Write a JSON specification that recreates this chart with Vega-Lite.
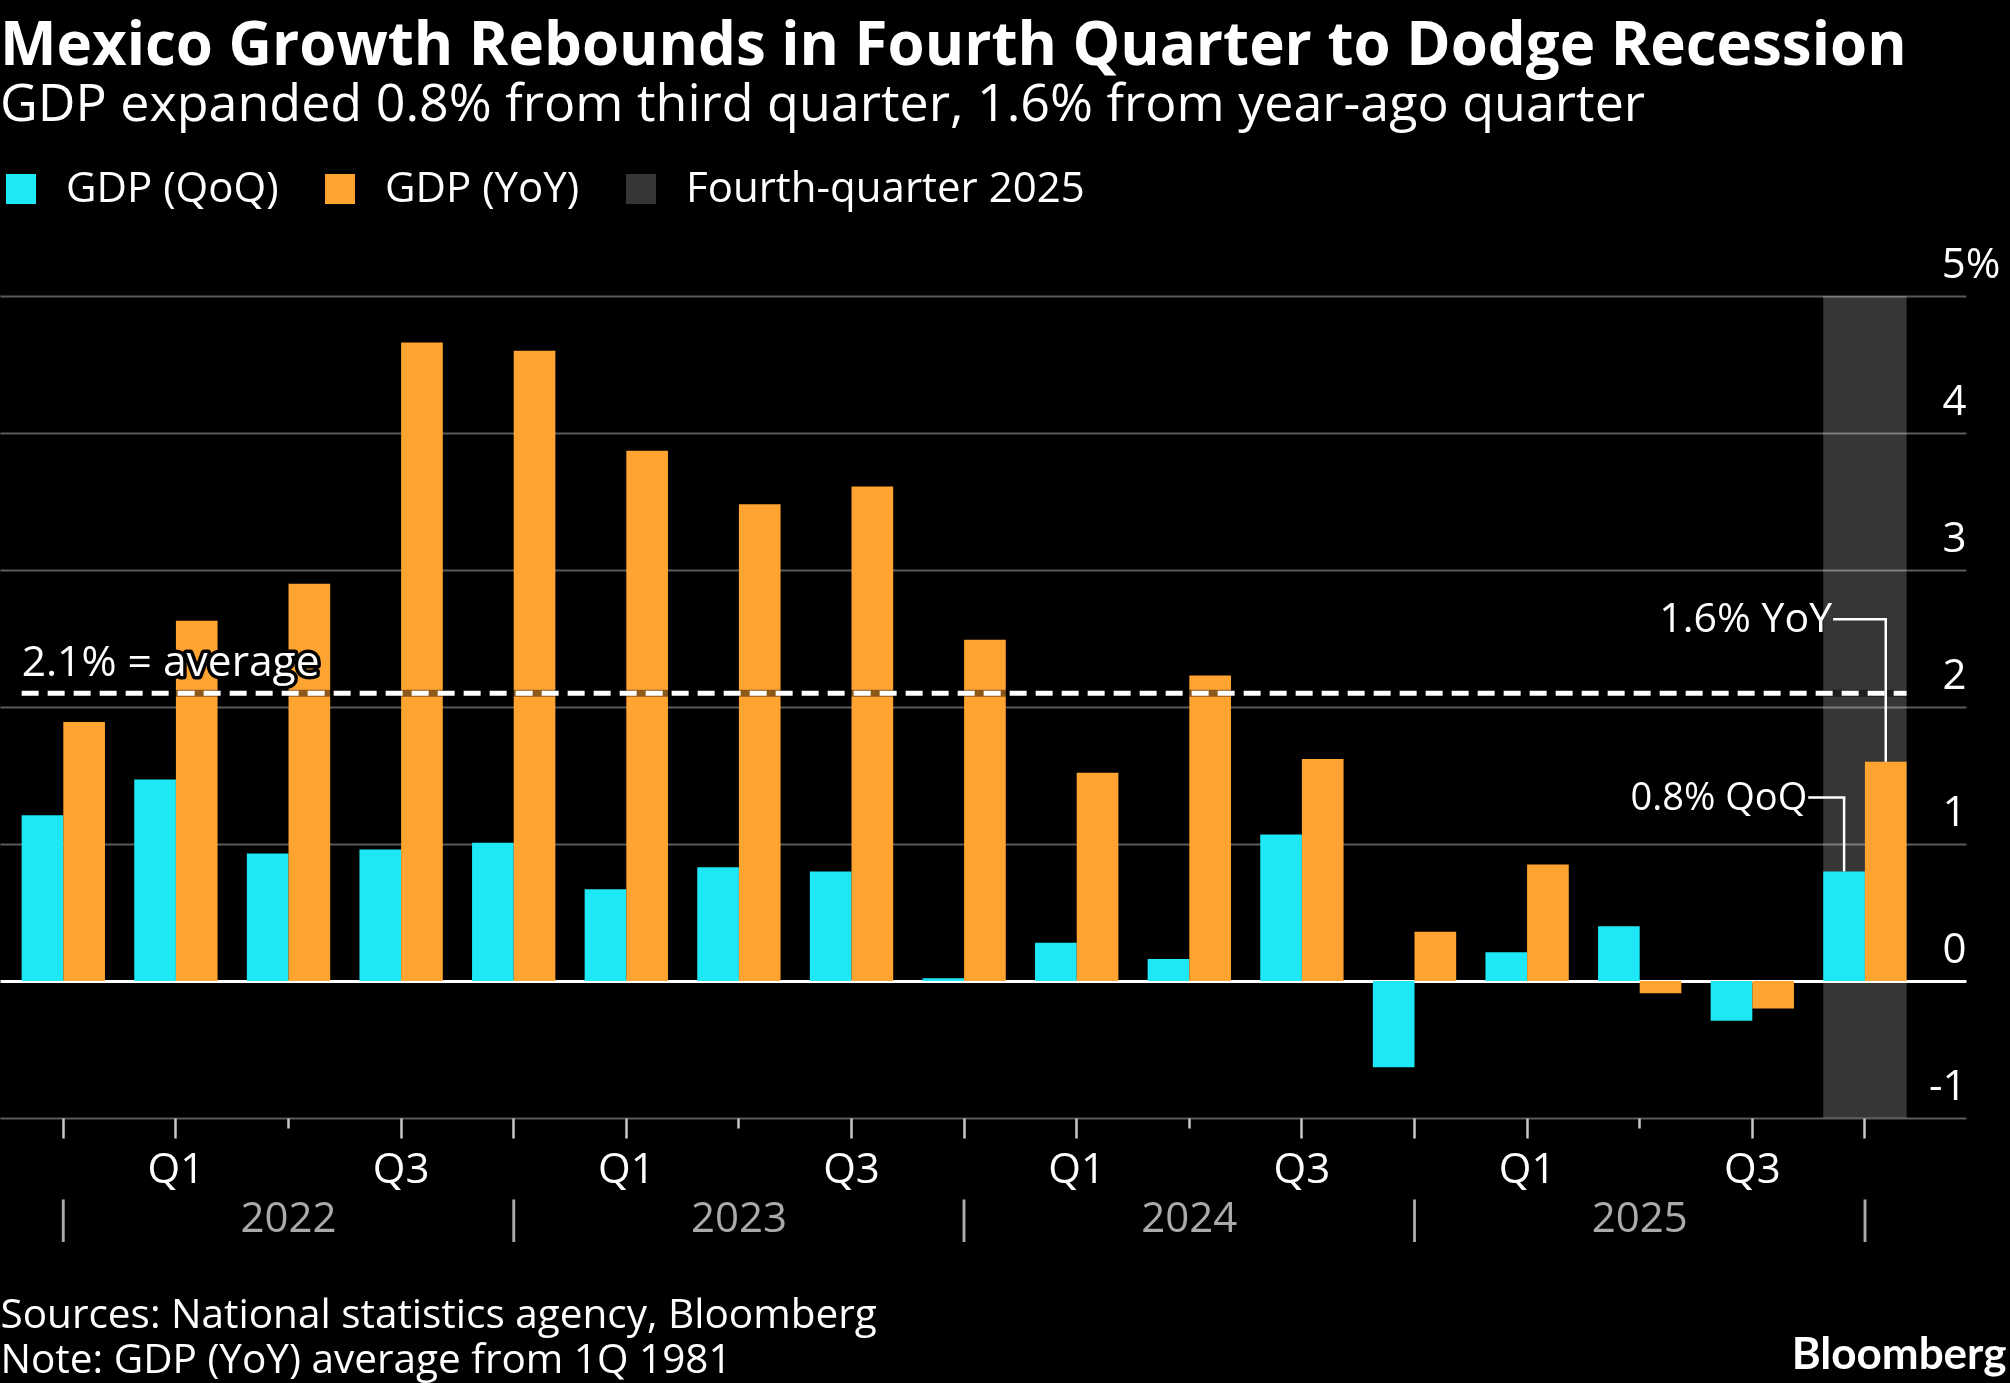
{
  "$schema": "https://vega.github.io/schema/vega-lite/v6.json",
  "width": 1966,
  "height": 822,
  "autosize": {"type": "none"},
  "padding": {"left": 0, "top": 296, "right": 44, "bottom": 265},
  "background": "#000000",
  "config": {
    "view": {"stroke": null},
    "font": "Open Sans"
  },
  "title": {
    "text": "Mexico Growth Rebounds in Fourth Quarter to Dodge Recession",
    "subtitle": "GDP expanded 0.8% from third quarter, 1.6% from year-ago quarter",
    "anchor": "start",
    "frame": "group",
    "font": "Open Sans",
    "fontSize": 60,
    "fontWeight": "bold",
    "color": "#ffffff",
    "subtitleFont": "Open Sans",
    "subtitleFontSize": 52,
    "subtitleColor": "#ffffff",
    "subtitlePadding": 2,
    "offset": 36
  },
  "datasets": {
    "gdp": [
      {"quarter": "2021 Q4", "series": "GDP (QoQ)", "value": 1.21},
      {"quarter": "2021 Q4", "series": "GDP (YoY)", "value": 1.89},
      {"quarter": "2022 Q1", "series": "GDP (QoQ)", "value": 1.47},
      {"quarter": "2022 Q1", "series": "GDP (YoY)", "value": 2.63},
      {"quarter": "2022 Q2", "series": "GDP (QoQ)", "value": 0.93},
      {"quarter": "2022 Q2", "series": "GDP (YoY)", "value": 2.90},
      {"quarter": "2022 Q3", "series": "GDP (QoQ)", "value": 0.96},
      {"quarter": "2022 Q3", "series": "GDP (YoY)", "value": 4.66},
      {"quarter": "2022 Q4", "series": "GDP (QoQ)", "value": 1.01},
      {"quarter": "2022 Q4", "series": "GDP (YoY)", "value": 4.60},
      {"quarter": "2023 Q1", "series": "GDP (QoQ)", "value": 0.67},
      {"quarter": "2023 Q1", "series": "GDP (YoY)", "value": 3.87},
      {"quarter": "2023 Q2", "series": "GDP (QoQ)", "value": 0.83},
      {"quarter": "2023 Q2", "series": "GDP (YoY)", "value": 3.48},
      {"quarter": "2023 Q3", "series": "GDP (QoQ)", "value": 0.80},
      {"quarter": "2023 Q3", "series": "GDP (YoY)", "value": 3.61},
      {"quarter": "2023 Q4", "series": "GDP (QoQ)", "value": 0.02},
      {"quarter": "2023 Q4", "series": "GDP (YoY)", "value": 2.49},
      {"quarter": "2024 Q1", "series": "GDP (QoQ)", "value": 0.28},
      {"quarter": "2024 Q1", "series": "GDP (YoY)", "value": 1.52},
      {"quarter": "2024 Q2", "series": "GDP (QoQ)", "value": 0.16},
      {"quarter": "2024 Q2", "series": "GDP (YoY)", "value": 2.23},
      {"quarter": "2024 Q3", "series": "GDP (QoQ)", "value": 1.07},
      {"quarter": "2024 Q3", "series": "GDP (YoY)", "value": 1.62},
      {"quarter": "2024 Q4", "series": "GDP (QoQ)", "value": -0.63},
      {"quarter": "2024 Q4", "series": "GDP (YoY)", "value": 0.36},
      {"quarter": "2025 Q1", "series": "GDP (QoQ)", "value": 0.21},
      {"quarter": "2025 Q1", "series": "GDP (YoY)", "value": 0.85},
      {"quarter": "2025 Q2", "series": "GDP (QoQ)", "value": 0.40},
      {"quarter": "2025 Q2", "series": "GDP (YoY)", "value": -0.09},
      {"quarter": "2025 Q3", "series": "GDP (QoQ)", "value": -0.29},
      {"quarter": "2025 Q3", "series": "GDP (YoY)", "value": -0.20},
      {"quarter": "2025 Q4", "series": "GDP (QoQ)", "value": 0.80},
      {"quarter": "2025 Q4", "series": "GDP (YoY)", "value": 1.60}
    ],
    "shade": [{"quarter": "2025 Q4", "series": "Fourth-quarter 2025", "lo": -1, "hi": 5}],
    "avg": [{"label": "2.1% = average", "start": "2021 Q4", "end": "2025 Q4", "value": 2.1}],
    "annYoY": [{"quarter": "2025 Q4", "label": "1.6% YoY", "value": 1.6, "level": 2.64}],
    "annQoQ": [{"quarter": "2025 Q4", "label": "0.8% QoQ", "value": 0.8, "level": 1.34}]
  },
  "layer": [
    {
      "data": {"name": "shade"},
      "mark": {"type": "bar", "blend": "screen"},
      "encoding": {
        "x": {"field": "quarter", "type": "nominal"},
        "y": {"field": "lo", "type": "quantitative"},
        "y2": {"field": "hi"},
        "color": {"field": "series", "type": "nominal"}
      }
    },
    {
      "data": {"name": "gdp"},
      "mark": {"type": "bar"},
      "encoding": {
        "x": {
          "field": "quarter",
          "type": "nominal",
          "scale": {"paddingInner": 0.26, "paddingOuter": 0.36, "align": 0.267},
          "axis": {
            "title": ["Sources: National statistics agency, Bloomberg", "Note: GDP (YoY) average from 1Q 1981"],
            "titleX": 0,
            "titleY": 209,
            "titleAlign": "left",
            "titleAnchor": "start",
            "titleBaseline": "alphabetic",
            "titleFont": "Open Sans",
            "titleFontSize": 40.5,
            "titleFontWeight": "normal",
            "titleColor": "#ffffff",
            "titleLineHeight": 45,
            "domain": false,
            "ticks": true,
            "tickColor": "#c8c8c8",
            "tickWidth": 2.5,
            "tickSize": {"condition": {"test": "substring(datum.value, 5) == 'Q2'", "value": 10}, "value": 20},
            "labelExpr": "substring(datum.value, 5) == 'Q2' ? ['', substring(datum.value, 0, 4)] : substring(datum.value, 5) == 'Q4' ? ['', '|'] : substring(datum.value, 5)",
            "labelFont": "Open Sans",
            "labelFontSize": 42,
            "labelColor": {"condition": {"test": "substring(datum.value, 5) == 'Q2' || substring(datum.value, 5) == 'Q4'", "value": "#aaaaaa"}, "value": "#ffffff"},
            "labelAlign": "center",
            "labelBaseline": "alphabetic",
            "labelPadding": {"condition": {"test": "substring(datum.value, 5) == 'Q2'", "value": 54}, "value": 44},
            "labelLineHeight": 49,
            "labelAngle": 0,
            "labelOverlap": false,
            "labelBound": false,
            "labelFlush": false
          }
        },
        "xOffset": {"field": "series", "type": "nominal", "scale": {"domain": ["GDP (QoQ)", "GDP (YoY)"]}},
        "y": {
          "field": "value",
          "type": "quantitative",
          "scale": {"domain": [-1, 5], "nice": false, "zero": false},
          "axis": {
            "orient": "right",
            "values": [-1, 0, 1, 2, 3, 4, 5],
            "title": "Bloomberg",
            "titleAngle": 0,
            "titleX": 40,
            "titleY": 1072,
            "titleAlign": "right",
            "titleAnchor": "end",
            "titleBaseline": "alphabetic",
            "titleFont": "Lato",
            "titleFontWeight": "bold",
            "titleFontSize": 44,
            "titleColor": "#ffffff",
            "domain": false,
            "ticks": false,
            "grid": true,
            "gridColor": {"condition": {"test": "datum.value === 0", "value": "#ffffff"}, "value": "#5a5a5a"},
            "gridWidth": {"condition": {"test": "datum.value === 0", "value": 3}, "value": 2},
            "labelExpr": "datum.value == 5 ? '5%' : '' + datum.value",
            "labelFont": "Open Sans",
            "labelFontSize": 42,
            "labelColor": "#ffffff",
            "labelAlign": "right",
            "labelBaseline": "alphabetic",
            "labelOffset": -19,
            "labelPadding": {"condition": {"test": "datum.value == 5", "value": 34}, "value": 0},
            "labelBound": false,
            "labelFlush": false,
            "labelOverlap": false
          }
        },
        "color": {
          "field": "series",
          "type": "nominal",
          "scale": {
            "domain": ["GDP (QoQ)", "GDP (YoY)", "Fourth-quarter 2025"],
            "range": ["#1ee8f5", "#ffa331", "#363636"]
          },
          "legend": {
            "orient": "none",
            "legendX": 0,
            "legendY": -128,
            "direction": "horizontal",
            "title": null,
            "labelFont": "Open Sans",
            "labelFontSize": 42,
            "labelColor": "#ffffff",
            "labelLimit": 0,
            "symbolType": "square",
            "symbolSize": 900,
            "symbolStrokeWidth": 0,
            "symbolOpacity": 1,
            "labelOffset": 24,
            "columnPadding": 40,
            "padding": 0
          }
        }
      }
    },
    {
      "data": {"name": "avg"},
      "mark": {"type": "rule", "color": "#000000", "strokeWidth": 7, "opacity": 0.45},
      "encoding": {
        "x": {"field": "start", "type": "nominal", "bandPosition": 0},
        "x2": {"field": "end", "bandPosition": 1},
        "y": {"field": "value", "type": "quantitative"}
      }
    },
    {
      "data": {"name": "avg"},
      "mark": {"type": "rule", "color": "#ffffff", "strokeWidth": 5, "strokeDash": [17, 9]},
      "encoding": {
        "x": {"field": "start", "type": "nominal", "bandPosition": 0},
        "x2": {"field": "end", "bandPosition": 1},
        "y": {"field": "value", "type": "quantitative"}
      }
    },
    {
      "data": {"name": "avg"},
      "mark": {"type": "text", "align": "left", "baseline": "alphabetic", "dy": -17, "fontSize": 42.5, "font": "Open Sans", "fill": "#000000", "stroke": "#000000", "strokeWidth": 7, "strokeJoin": "round"},
      "encoding": {
        "x": {"field": "start", "type": "nominal", "bandPosition": 0},
        "y": {"field": "value", "type": "quantitative"},
        "text": {"field": "label"}
      }
    },
    {
      "data": {"name": "avg"},
      "mark": {"type": "text", "align": "left", "baseline": "alphabetic", "dy": -17, "fontSize": 42.5, "font": "Open Sans", "fill": "#ffffff"},
      "encoding": {
        "x": {"field": "start", "type": "nominal", "bandPosition": 0},
        "y": {"field": "value", "type": "quantitative"},
        "text": {"field": "label"}
      }
    },
    {
      "data": {"name": "annYoY"},
      "mark": {"type": "rule", "color": "#ffffff", "strokeWidth": 2.5},
      "encoding": {
        "x": {"field": "quarter", "type": "nominal", "bandPosition": 0.75},
        "y": {"field": "value", "type": "quantitative"},
        "y2": {"field": "level"}
      }
    },
    {
      "data": {"name": "annYoY"},
      "mark": {"type": "rule", "color": "#ffffff", "strokeWidth": 2.5},
      "encoding": {
        "x": {"field": "quarter", "type": "nominal", "bandPosition": 0.765},
        "x2": {"field": "quarter", "bandPosition": 0.118},
        "y": {"field": "level", "type": "quantitative"}
      }
    },
    {
      "data": {"name": "annYoY"},
      "mark": {"type": "text", "align": "right", "baseline": "alphabetic", "dy": 13, "dx": -1, "fontSize": 41, "font": "Open Sans", "fill": "#ffffff"},
      "encoding": {
        "x": {"field": "quarter", "type": "nominal", "bandPosition": 0.118},
        "y": {"field": "level", "type": "quantitative"},
        "text": {"field": "label"}
      }
    },
    {
      "data": {"name": "annQoQ"},
      "mark": {"type": "rule", "color": "#ffffff", "strokeWidth": 2.5},
      "encoding": {
        "x": {"field": "quarter", "type": "nominal", "bandPosition": 0.25},
        "y": {"field": "value", "type": "quantitative"},
        "y2": {"field": "level"}
      }
    },
    {
      "data": {"name": "annQoQ"},
      "mark": {"type": "rule", "color": "#ffffff", "strokeWidth": 2.5},
      "encoding": {
        "x": {"field": "quarter", "type": "nominal", "bandPosition": 0.265},
        "x2": {"field": "quarter", "bandPosition": -0.18},
        "y": {"field": "level", "type": "quantitative"}
      }
    },
    {
      "data": {"name": "annQoQ"},
      "mark": {"type": "text", "align": "right", "baseline": "alphabetic", "dy": 13, "dx": -1, "fontSize": 38, "font": "Open Sans", "fill": "#ffffff"},
      "encoding": {
        "x": {"field": "quarter", "type": "nominal", "bandPosition": -0.18},
        "y": {"field": "level", "type": "quantitative"},
        "text": {"field": "label"}
      }
    }
  ]
}
